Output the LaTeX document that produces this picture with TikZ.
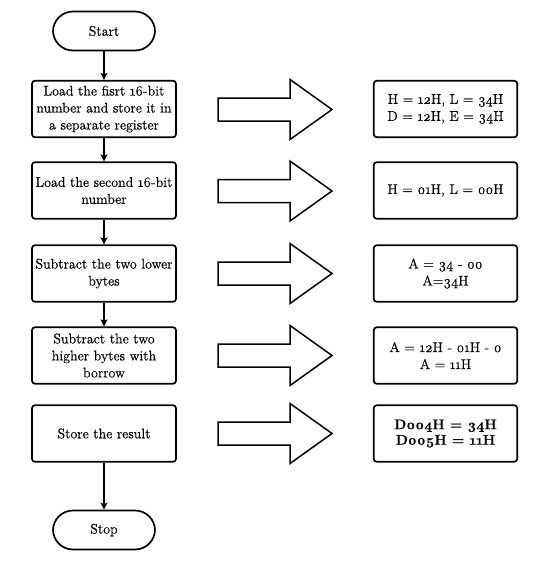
\documentclass[tikz,border=0pt]{standalone}
\usepackage{fontspec}
\setmainfont{Latin Modern Roman}[Numbers=OldStyle, FakeBold=0.4]
\usetikzlibrary{arrows.meta}
\tikzset{
  txt/.style={font=\fontsize{14}{17}\selectfont},
  proc/.style={draw, line width=1.7pt, rounded corners=3pt, minimum width=144pt, minimum height=56.5pt, align=center, inner sep=0pt, txt},
  res/.style={proc, minimum width=143.5pt},
  term/.style={draw, line width=1.7pt, rounded corners=20pt, minimum width=102pt, minimum height=39pt, inner sep=0pt, txt},
  conn/.style={line width=1.2pt, -{Stealth[length=7pt,width=7pt,inset=1.5pt]}},
  barrow/.pic={\draw[line width=1.5pt, line join=miter] (0,-11.5) -- (72,-11.5) -- (72,-30) -- (114,0) -- (72,30) -- (72,11.5) -- (0,11.5) -- cycle;}
}
\begin{document}
\begin{tikzpicture}[x=1pt,y=-1pt]
\useasboundingbox (0,0) rectangle (558,563);
\node[term] (start) at (104,31) {Start};
\node[proc] (p1) at (104,109) {Load the fisrt 16-bit\\number and store it in\\a separate register};
\node[proc] (p2) at (104,190.5) {Load the second 16-bit\\number};
\node[proc] (p3) at (104,273.5) {Subtract the two lower\\bytes};
\node[proc] (p4) at (104,355.5) {Subtract the two\\higher bytes with\\borrow};
\node[proc] (p5) at (104,433.5) {Store the result};
\node[term] (stop) at (104,530) {Stop};

\node[res] (r1) at (445.5,109) {H = 12H, L = 34H\\D = 12H, E = 34H};
\node[res] (r2) at (445.5,190.5) {H = 01H, L = 00H};
\node[res] (r3) at (445.5,273.5) {A = 34 - 00\\A=34H};
\node[res] (r4) at (445.5,355.5) {A = 12H - 01H - 0\\A = 11H};
\node[res, font=\fontsize{14}{15.5}\selectfont\bfseries] (r5) at (445.5,433.5) {D004H = 34H\\D005H = 11H};

\draw[conn] (start) -- (p1);
\draw[conn] (p1) -- (p2);
\draw[conn] (p2) -- (p3);
\draw[conn] (p3) -- (p4);
\draw[conn] (p5) -- (stop);

\pic at (218,109.5) {barrow};
\pic at (218,191) {barrow};
\pic at (218,273.5) {barrow};
\pic at (218,355.5) {barrow};
\pic at (218,433.5) {barrow};
\end{tikzpicture}
\end{document}
